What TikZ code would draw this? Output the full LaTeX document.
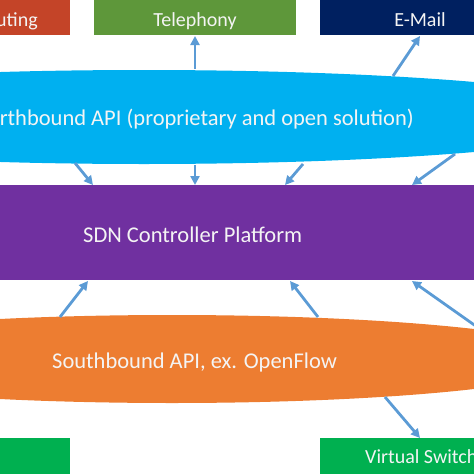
\documentclass[tikz,border=0pt]{standalone}
\usepackage{fontspec}
\setmainfont{Carlito}
\usetikzlibrary{shapes.geometric,arrows.meta}
\definecolor{cred}{RGB}{196,68,40}
\definecolor{cgreenA}{RGB}{94,151,58}
\definecolor{cnavy}{RGB}{0,32,96}
\definecolor{cblue}{RGB}{0,176,240}
\definecolor{cpurple}{RGB}{112,48,160}
\definecolor{corange}{RGB}{237,125,49}
\definecolor{cgreenB}{RGB}{0,176,80}
\definecolor{carrow}{RGB}{91,155,213}
\definecolor{ctext}{RGB}{244,244,244}
\tikzset{
  boxnode/.style={rectangle, inner sep=0pt, draw=none},
  lens/.style={ellipse, inner sep=0pt, draw=none},
  lbl/.style={text=ctext, inner sep=0pt, font=\fontsize{22.5}{27}\selectfont},
  blbl/.style={text=ctext, inner sep=0pt, font=\fontsize{20}{24}\selectfont},
  arr/.style={draw=carrow, line width=2.8pt, -{Triangle[length=9pt,width=9pt]}}
}
\begin{document}
\begin{tikzpicture}[x=1pt,y=-1pt]
\useasboundingbox (0,0) rectangle (474,474);
\clip (0,0) rectangle (474,474);
% top boxes
\node[boxnode, fill=cred, minimum width=100pt, minimum height=45pt] (rout) at (20,12.5) {};
\node[boxnode, fill=cgreenA, minimum width=202pt, minimum height=45pt] (tel) at (195,12.5) {};
\node[boxnode, fill=cnavy, minimum width=164pt, minimum height=45pt] (mail) at (402,12.5) {};
\node[blbl, anchor=base east] (routt) at (38,26) {Routing};
\node[blbl, anchor=base] (telt) at (195,26) {Telephony};
\node[blbl, anchor=base] (mailt) at (420,26) {E-Mail};
% northbound lens
\node[lens, fill=cblue, minimum width=990pt, minimum height=94pt] (nb) at (144,117) {};
\node[lbl, anchor=base east] (nbt) at (414,125) {Northbound API (proprietary and open solution)};
% purple platform
\node[boxnode, fill=cpurple, minimum width=490pt, minimum height=95pt] (sdn) at (237,232.5) {};
\node[lbl, anchor=base west] (sdnt) at (83,242) {SDN Controller Platform};
% southbound lens
\node[lens, fill=corange, minimum width=826pt, minimum height=88pt] (sb) at (172,359) {};
\node[lbl, anchor=base west] (sbt) at (52,368) {Southbound API, ex. OpenFlow};
% bottom boxes
\node[boxnode, fill=cgreenB, minimum width=100pt, minimum height=50pt] (dev) at (20,463) {};
\node[boxnode, fill=cgreenB, minimum width=164pt, minimum height=50pt] (vsw) at (402,463) {};
\node[blbl, anchor=base west] (vswt) at (365,463) {Virtual Switch};
% arrow coordinates
\coordinate (a1) at (195,69);  \coordinate (b1) at (195,36);
\coordinate (a2) at (393,76);  \coordinate (b2) at (420,36);
\coordinate (c1) at (75,163);  \coordinate (d1) at (93,185);
\coordinate (c2) at (195,165); \coordinate (d2) at (195,185);
\coordinate (c3) at (303,164); \coordinate (d3) at (285,185);
\coordinate (c4) at (455,154); \coordinate (d4) at (412,185);
\coordinate (e1) at (60,317);  \coordinate (f1) at (88,281);
\coordinate (e2) at (318,317); \coordinate (f2) at (290,281);
\coordinate (e3) at (480,329); \coordinate (f3) at (412,281);
\coordinate (g1) at (385,397); \coordinate (h1) at (420,438);
\draw[arr] (a1) -- (b1);
\draw[arr] (a2) -- (b2);
\draw[arr] (c1) -- (d1);
\draw[arr] (c2) -- (d2);
\draw[arr] (c3) -- (d3);
\draw[arr] (c4) -- (d4);
\draw[arr] (e1) -- (f1);
\draw[arr] (e2) -- (f2);
\draw[arr] (e3) -- (f3);
\draw[arr] (g1) -- (h1);
\end{tikzpicture}
\end{document}
